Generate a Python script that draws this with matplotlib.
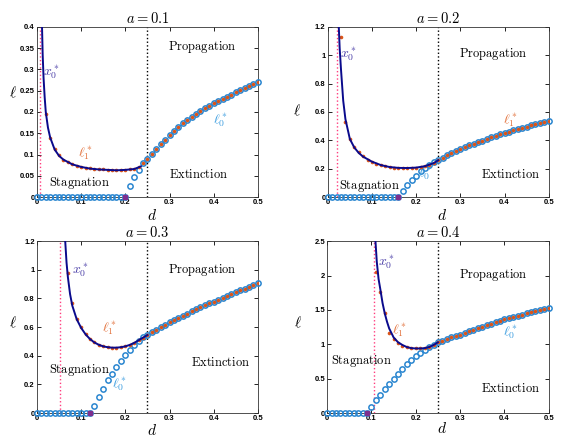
import numpy as np
import matplotlib
matplotlib.use("Agg")
import matplotlib.pyplot as plt

plt.rcParams['mathtext.fontset'] = 'cm'

d = [0.00, 0.01, 0.02, 0.03, 0.04, 0.05, 0.06, 0.07, 0.08, 0.09,
     0.10, 0.11, 0.12, 0.13, 0.14, 0.15, 0.16, 0.17, 0.18, 0.19,
     0.20, 0.21, 0.22, 0.23, 0.24, 0.25, 0.26, 0.27, 0.28, 0.29,
     0.30, 0.31, 0.32, 0.33, 0.34, 0.35, 0.36, 0.37, 0.38, 0.39,
     0.40, 0.41, 0.42, 0.43, 0.44, 0.45, 0.46, 0.47, 0.48, 0.49, 0.50]
N = None

# a = 0.1
tail_1 = [0.090, 0.102, 0.113, 0.124, 0.135, 0.146, 0.155, 0.164, 0.173, 0.181,
          0.189, 0.196, 0.203, 0.209, 0.215, 0.220, 0.226, 0.231, 0.236, 0.241,
          0.246, 0.251, 0.256, 0.261, 0.266, 0.271]
l0_1 = [0] * 21 + [0.025, 0.048, 0.064, 0.079] + tail_1
l1_1 = [N, N, 0.195, 0.140, 0.113, 0.098, 0.088, 0.082, 0.077, 0.074, 0.071,
        0.069, 0.068, 0.067, 0.066, 0.065, 0.064, 0.064, 0.064, 0.064, 0.064,
        0.065, 0.067, 0.071, 0.079] + tail_1
x0_d_1 = [0.0115, 0.013, 0.015, 0.0175, 0.02, 0.025, 0.03, 0.04, 0.05, 0.06,
          0.08, 0.10, 0.12, 0.14, 0.16, 0.18, 0.20, 0.22, 0.235]
x0_l_1 = [0.40, 0.335, 0.28, 0.235, 0.20, 0.163, 0.140, 0.112, 0.097, 0.088,
          0.077, 0.071, 0.067, 0.065, 0.064, 0.063, 0.064, 0.066, 0.072]

# a = 0.2
tail_2 = [0.262, 0.279, 0.294, 0.309, 0.324, 0.338, 0.351, 0.364, 0.376, 0.388,
          0.399, 0.410, 0.421, 0.432, 0.443, 0.453, 0.462, 0.471, 0.480, 0.488,
          0.496, 0.505, 0.513, 0.521, 0.529, 0.537]
l0_2 = [0] * 17 + [0.045, 0.085, 0.120, 0.152, 0.183, 0.208, 0.228, 0.245] + tail_2
l1_2 = [N, N, N, 1.13, 0.53, 0.41, 0.355, 0.315, 0.287, 0.265, 0.250, 0.236,
        0.226, 0.218, 0.212, 0.208, 0.206, 0.205, 0.205, 0.206, 0.208, 0.212,
        0.218, 0.228, 0.243] + tail_2
x0_d_2 = [0.025, 0.027, 0.03, 0.035, 0.04, 0.05, 0.06, 0.07, 0.08, 0.10,
          0.12, 0.14, 0.16, 0.18, 0.20, 0.22, 0.24, 0.25]
x0_l_2 = [1.20, 1.05, 0.90, 0.68, 0.55, 0.41, 0.350, 0.312, 0.285, 0.250,
          0.226, 0.212, 0.206, 0.205, 0.208, 0.218, 0.240, 0.260]

# a = 0.3
tail_3 = [0.545, 0.563, 0.581, 0.598, 0.616, 0.633, 0.649, 0.665, 0.680, 0.695,
          0.710, 0.724, 0.738, 0.751, 0.765, 0.778, 0.791, 0.804, 0.817, 0.830,
          0.843, 0.856, 0.868, 0.881, 0.894, 0.906]
l0_3 = [0] * 13 + [0.047, 0.112, 0.170, 0.228, 0.275, 0.322, 0.365, 0.405,
                   0.440, 0.475, 0.505, 0.528] + tail_3
l1_3 = [N] * 7 + [0.98, 0.765, 0.66, 0.60, 0.555, 0.52, 0.495, 0.478, 0.467,
                  0.46, 0.457, 0.457, 0.46, 0.466, 0.476, 0.49, 0.508, 0.527] + tail_3
x0_d_3 = [0.064, 0.067, 0.07, 0.075, 0.08, 0.09, 0.10, 0.11, 0.12, 0.13, 0.14,
          0.15, 0.16, 0.17, 0.18, 0.19, 0.20, 0.21, 0.22, 0.23, 0.24, 0.25]
x0_l_3 = [1.20, 1.05, 0.95, 0.83, 0.75, 0.655, 0.595, 0.55, 0.517, 0.493, 0.477,
          0.466, 0.46, 0.457, 0.457, 0.46, 0.466, 0.476, 0.49, 0.508, 0.527, 0.545]

# a = 0.4
tail_4 = [1.03, 1.055, 1.08, 1.10, 1.12, 1.14, 1.165, 1.19, 1.21, 1.235,
          1.255, 1.28, 1.30, 1.325, 1.345, 1.37, 1.385, 1.40, 1.415, 1.43,
          1.45, 1.465, 1.48, 1.495, 1.51, 1.53]
l0_4 = [0] * 10 + [0.088, 0.185, 0.27, 0.345, 0.43, 0.50, 0.574, 0.647, 0.71,
                   0.768, 0.827, 0.875, 0.92, 0.96, 0.995] + tail_4
l1_4 = [N] * 11 + [2.05, 1.76, 1.46, 1.165, 1.08, 1.02, 0.98, 0.956, 0.945,
                   0.94, 0.94, 0.945, 0.96, 0.99] + tail_4
x0_d_4 = [0.109, 0.112, 0.116, 0.12, 0.125, 0.13, 0.135, 0.14, 0.15, 0.16, 0.17,
          0.18, 0.19, 0.20, 0.21, 0.22, 0.23, 0.24, 0.25]
x0_l_4 = [2.50, 2.20, 1.95, 1.80, 1.60, 1.45, 1.33, 1.23, 1.10, 1.03, 0.99,
          0.96, 0.945, 0.94, 0.94, 0.945, 0.96, 0.99, 1.03]

a_vals = [0.1, 0.2, 0.3, 0.4]
pink_d = [0.006, 0.021, 0.053, 0.106]
stag_end = [0.20, 0.16, 0.12, 0.09]
ylims = [0.4, 1.2, 1.2, 2.5]
yticks = [[0, 0.05, 0.1, 0.15, 0.2, 0.25, 0.3, 0.35, 0.4],
          [0, 0.2, 0.4, 0.6, 0.8, 1, 1.2],
          [0, 0.2, 0.4, 0.6, 0.8, 1, 1.2],
          [0, 0.5, 1, 1.5, 2, 2.5]]
xticks = [0, 0.1, 0.2, 0.3, 0.4, 0.5]

l0_all = [l0_1, l0_2, l0_3, l0_4]
l1_all = [l1_1, l1_2, l1_3, l1_4]
x0d_all = [x0_d_1, x0_d_2, x0_d_3, x0_d_4]
x0l_all = [x0_l_1, x0_l_2, x0_l_3, x0_l_4]

# label positions (d, l) for each panel
lab_prop = [(0.375, 0.353), (0.374, 1.01), (0.375, 1.0), (0.374, 2.01)]
lab_ext = [(0.365, 0.052), (0.413, 0.156), (0.416, 0.35), (0.413, 0.365)]
lab_stag = [(0.097, 0.033), (0.095, 0.08), (0.097, 0.30), (0.077, 0.754)]
lab_x0 = [(0.033, 0.294), (0.046, 1.01), (0.099, 1.0), (0.134, 2.19)]
lab_l1 = [(0.110, 0.103), (0.413, 0.54), (0.164, 0.59), (0.163, 1.21)]
lab_l0 = [(0.415, 0.18), (0.222, 0.17), (0.186, 0.205), (0.413, 1.18)]

positions = [[0.064, 0.552, 0.383, 0.387],
             [0.568, 0.552, 0.383, 0.387],
             [0.064, 0.061, 0.383, 0.391],
             [0.567, 0.061, 0.384, 0.391]]
ylab_xy = [(-0.11, 0.57), (-0.14, 0.46), (-0.11, 0.48), (-0.13, 0.48)]
xlab_xy = [(0.52, -0.065), (0.516, -0.065), (0.52, -0.055), (0.518, -0.045)]

c_blue = '#2a86d0'
c_orange = '#d95319'
c_navy = '#0a0a8c'
c_pink = '#ff3d7f'

fig = plt.figure(figsize=(5.77, 4.4), dpi=100)

for i in range(4):
    ax = fig.add_axes(positions[i])
    dd = np.array(d)
    l0 = np.array(l0_all[i], dtype=float)
    l1 = np.array([np.nan if v is None else v for v in l1_all[i]], dtype=float)

    ax.axvline(pink_d[i], color=c_pink, ls=':', lw=1.0)
    ax.axvline(0.25, color='k', ls=':', lw=1.0)

    ax.plot(dd, l0, 'o', ms=3.8, mfc='none', mec=c_blue, mew=1.1, clip_on=False, zorder=3)
    ax.plot(dd, l1, 'o', ms=2.6, mfc=c_orange, mec=c_orange, mew=0, zorder=4)
    ax.plot(x0d_all[i], x0l_all[i], '-', color=c_navy, lw=1.4, zorder=5)
    ax.plot([stag_end[i]], [0], 's', ms=3.5, color='#7e2f8e', clip_on=False, zorder=6)

    ax.set_xlim(0, 0.5)
    ax.set_ylim(0, ylims[i])
    ax.set_xticks(xticks)
    ax.set_xticklabels([('%g' % t) for t in xticks])
    ax.set_yticks(yticks[i])
    ax.set_yticklabels([('%g' % t) for t in yticks[i]])
    ax.tick_params(direction='in', top=True, right=True, length=3, width=0.6,
                   pad=1.5, labelsize=5.5)
    for lab in ax.get_xticklabels() + ax.get_yticklabels():
        lab.set_fontweight('bold')
        lab.set_fontfamily('Liberation Sans')
    for sp in ax.spines.values():
        sp.set_linewidth(0.6)
        sp.set_color('#333333')

    ax.set_title(r'$a = %g$' % a_vals[i], fontsize=10.5, pad=3)
    ax.set_ylabel(r'$\ell$', fontsize=11, rotation=0)
    ax.yaxis.set_label_coords(*ylab_xy[i])
    ax.set_xlabel(r'$d$', fontsize=11)
    ax.xaxis.set_label_coords(*xlab_xy[i])

    ax.text(*lab_prop[i], r'$\mathrm{Propagation}$', fontsize=9, ha='center', va='center')
    ax.text(*lab_ext[i], r'$\mathrm{Extinction}$', fontsize=9, ha='center', va='center')
    ax.text(*lab_stag[i], r'$\mathrm{Stagnation}$', fontsize=9, ha='center', va='center')
    ax.text(*lab_x0[i], r'$x_0^*$', fontsize=10, color='#4b3fa8', ha='center', va='center')
    ax.text(*lab_l1[i], r'$\ell_1^*$', fontsize=10, color='#e2703a', ha='center', va='center')
    ax.text(*lab_l0[i], r'$\ell_0^*$', fontsize=10, color='#3d9ee0', ha='center', va='center')

fig.savefig('out.png', dpi=100)
